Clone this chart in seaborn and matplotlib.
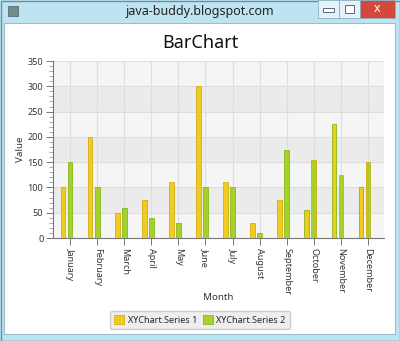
import numpy as np
import pandas as pd
import matplotlib
matplotlib.use("Agg")
import matplotlib.pyplot as plt
from matplotlib.patches import Rectangle, FancyBboxPatch
from matplotlib.ticker import MultipleLocator
import seaborn as sns

months = ["January", "February", "March", "April", "May", "June", "July",
          "August", "September", "October", "November", "December"]
series1 = [100, 200, 50, 75, 110, 300, 110, 30, 75, 55, 225, 100]
series2 = [150, 100, 60, 40, 30, 100, 100, 10, 175, 155, 125, 150]
series_names = ["XYChart.Series 1", "XYChart.Series 2"]
y_ticks = [0, 50, 100, 150, 200, 250, 300, 350]

df = pd.DataFrame({
    "Month": months * 2,
    "Value": series1 + series2,
    "Series": [series_names[0]] * len(months) + [series_names[1]] * len(months),
})

sns.set_theme(style="white")
plt.rcParams["font.family"] = ["Noto Sans", "DejaVu Sans"]

W, H = 400, 341
fig = plt.figure(figsize=(W / 100, H / 100), dpi=100)
fig.patch.set_facecolor("#bfe4f1")

def px(x0, y0, w, h):
    return (x0 / W, 1 - (y0 + h) / H, w / W, h / H)

# window frame
fig.patches.append(Rectangle((0.5 / W, 0.5 / H), (W - 1) / W, (H - 1) / H,
                             transform=fig.transFigure, fill=False,
                             edgecolor="#6a8fa3", lw=1, zorder=0))
x0, y0, w, h = px(4, 23, 391, 311)
fig.patches.append(Rectangle((x0, y0), w, h, transform=fig.transFigure,
                             facecolor="white", edgecolor="#9bbccc", lw=0.8, zorder=1))
fig.text(0.5, 1 - 12 / H, "java-buddy.blogspot.com", ha="center", va="center",
         fontsize=9, color="#222222")
# title bar buttons
for bx, bw, fc in [(318, 21, "#e4f3f9"), (339, 21, "#e4f3f9"), (360, 35, "#d4473b")]:
    a, b, c, d = px(bx, 0, bw, 18)
    fig.patches.append(Rectangle((a, b), c, d, transform=fig.transFigure,
                                 facecolor=fc, edgecolor="#8fb0c0", lw=0.6, zorder=2))
fig.text(377.5 / W, 1 - 9 / H, "x", ha="center", va="center", fontsize=9,
         color="white", fontweight="bold")
a, b, c, d = px(323, 8, 11, 4)
fig.patches.append(Rectangle((a, b), c, d, transform=fig.transFigure,
                             facecolor="white", edgecolor="#445566", lw=0.6, zorder=3))
a, b, c, d = px(345, 5, 9, 8)
fig.patches.append(Rectangle((a, b), c, d, transform=fig.transFigure,
                             facecolor="white", edgecolor="#445566", lw=0.6, zorder=3))
# window icon
a, b, c, d = px(8, 6, 10, 10)
fig.patches.append(Rectangle((a, b), c, d, transform=fig.transFigure,
                             facecolor="#6f8f80", edgecolor="#557", lw=0.5, zorder=3))

fig.text(0.5, 1 - 43 / H, "BarChart", ha="center", va="center",
         fontsize=13, color="#111111")

ax = fig.add_axes(px(53, 61, 331, 177))
ax.set_zorder(5)
ax.set_facecolor("#f5f5f5")
for lo in (50, 150, 250):
    ax.axhspan(lo, lo + 50, color="#ebebeb", zorder=0, lw=0)

yellow, green = "#f0cb22", "#a5d22a"
sns.barplot(data=df, x="Month", y="Value", hue="Series", palette=[yellow, green],
            width=0.52, gap=0.33, ax=ax, legend=False, saturation=1,
            edgecolor="#d2ad10", linewidth=0.6, zorder=3)
for p in ax.patches[len(months):2 * len(months)]:
    p.set_edgecolor("#88b81a")

ax.set_ylim(0, 350)
ax.set_xlim(-0.50, 11.72)
ax.set_xticks(np.arange(len(months)) + 0.13)
ax.set_xticklabels(months, rotation=-90, fontsize=6.5, color="#333333")
ax.set_yticks(y_ticks)
ax.set_yticklabels([str(v) for v in y_ticks], fontsize=6.5, color="#333333")
ax.yaxis.set_minor_locator(MultipleLocator(10))
ax.tick_params(axis="y", which="major", length=5, width=0.7, color="#777777", pad=2, left=True)
ax.tick_params(axis="y", which="minor", length=3, width=0.6, color="#999999", left=True)
ax.tick_params(axis="x", which="major", length=5, width=0.7, color="#777777", pad=2, bottom=True)
ax.grid(True, which="major", color="#dedede", lw=0.8, zorder=1)
ax.set_axisbelow(True)
for s in ("top", "right"):
    ax.spines[s].set_visible(False)
for s in ("left", "bottom"):
    ax.spines[s].set_color("#777777")
    ax.spines[s].set_linewidth(0.8)
ax.set_xlabel("Month", fontsize=7, color="#333333", labelpad=-1)
ax.set_ylabel("Value", fontsize=7, color="#333333", labelpad=2)

handles = [FancyBboxPatch((0, 0), 1, 1, boxstyle="round,pad=0.1", facecolor=c,
                          edgecolor=e, lw=0.6)
           for c, e in [(yellow, "#d2ad10"), (green, "#88b81a")]]
leg = fig.legend(handles, series_names, loc="center", ncol=2,
                 bbox_to_anchor=(200 / W, 1 - 320 / H), fontsize=6.5,
                 frameon=True, fancybox=True, facecolor="#eeeeee", edgecolor="#cccccc",
                 handlelength=1.1, handleheight=1.1, handletextpad=0.4,
                 columnspacing=0.6, borderpad=0.45, framealpha=1)
leg.set_zorder(6)

fig.savefig("out.png", dpi=100, facecolor=fig.get_facecolor())
